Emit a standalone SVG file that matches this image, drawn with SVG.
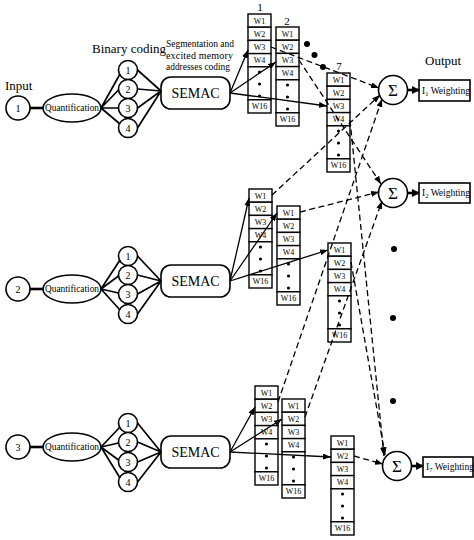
<svg xmlns="http://www.w3.org/2000/svg" width="474" height="540" viewBox="0 0 474 540">
<defs>
<style>
text{font-family:"Liberation Serif","Times New Roman",serif;fill:#000}
.node{fill:#fff;stroke:#000;stroke-width:1.6}
.cell{fill:#fff;stroke:#000;stroke-width:1.4}
.w{font-size:8px;text-anchor:middle}
.dot{fill:#000}
.ln{stroke:#000;stroke-width:1.7;fill:none}
.thin{stroke:#000;stroke-width:1.3;fill:none}
.dash{stroke:#000;stroke-width:1.3;stroke-dasharray:6 3.5;fill:none}
.thick{stroke:#000;stroke-width:2.6;fill:none}
.lbl{font-size:13px}
.num{font-size:10px;text-anchor:middle}
.q{font-size:9.5px;text-anchor:middle}
.sem{font-size:14px;text-anchor:middle}
.sig{font-size:17px;text-anchor:middle}
.wt{font-size:9.5px}
.sub{font-size:6.5px}
</style>
<marker id="ah" viewBox="0 0 8 6" refX="8" refY="3" markerWidth="8" markerHeight="6" markerUnits="userSpaceOnUse" orient="auto">
<path d="M0,0 L8,3 L0,6 z" fill="#000"/>
</marker>
<marker id="ahb" viewBox="0 0 8 8" refX="7" refY="4" markerWidth="8" markerHeight="8" markerUnits="userSpaceOnUse" orient="auto">
<path d="M0,0 L8,4 L0,8 z" fill="#000"/>
</marker>
</defs>
<rect width="474" height="540" fill="#fff"/>

<!-- labels -->
<text class="lbl" x="5" y="90">Input</text>
<text class="lbl" x="92" y="53">Binary coding</text>
<text font-size="10" x="166" y="47" textLength="68" lengthAdjust="spacingAndGlyphs">Segmentation and</text>
<text font-size="10" x="166" y="58.5" textLength="67" lengthAdjust="spacing">excited memory</text>
<text font-size="10" x="166" y="70" textLength="64" lengthAdjust="spacingAndGlyphs">addresses coding</text>
<text class="lbl" x="425" y="65">Output</text>
<text font-size="11" x="260" y="11" text-anchor="middle">1</text>
<text font-size="11" x="287" y="25" text-anchor="middle">2</text>
<text font-size="11" x="339" y="70" text-anchor="middle">7</text>

<!-- group 1 -->
<g id="in1"><circle class="node" cx="18" cy="108" r="12"/><text class="num" x="18" y="111.5">1</text></g>
<g id="q1"><ellipse class="node" cx="72" cy="108" rx="29" ry="14"/><text class="q" x="72" y="111" textLength="54" lengthAdjust="spacingAndGlyphs">Quantification</text></g>
<g id="b1_1"><circle class="node" cx="128" cy="70" r="9.5"/><text class="num" x="128" y="73.5">1</text></g>
<g id="b1_2"><circle class="node" cx="128" cy="89" r="9.5"/><text class="num" x="128" y="92.5">2</text></g>
<g id="b1_3"><circle class="node" cx="128" cy="108" r="9.5"/><text class="num" x="128" y="111.5">3</text></g>
<g id="b1_4"><circle class="node" cx="128" cy="128" r="9.5"/><text class="num" x="128" y="131.5">4</text></g>
<g id="semac1"><rect class="node" x="161" y="77" width="69" height="32" rx="10"/><text class="sem" x="195.5" y="98">SEMAC</text></g>

<!-- group 2 -->
<g id="in2"><circle class="node" cx="18" cy="289" r="12"/><text class="num" x="18" y="292.5">2</text></g>
<g id="q2"><ellipse class="node" cx="72" cy="289" rx="29" ry="14"/><text class="q" x="72" y="292" textLength="54" lengthAdjust="spacingAndGlyphs">Quantification</text></g>
<g id="b2_1"><circle class="node" cx="128" cy="256" r="9.5"/><text class="num" x="128" y="259.5">1</text></g>
<g id="b2_2"><circle class="node" cx="128" cy="275" r="9.5"/><text class="num" x="128" y="278.5">2</text></g>
<g id="b2_3"><circle class="node" cx="128" cy="294" r="9.5"/><text class="num" x="128" y="297.5">3</text></g>
<g id="b2_4"><circle class="node" cx="128" cy="314" r="9.5"/><text class="num" x="128" y="317.5">4</text></g>
<g id="semac2"><rect class="node" x="161" y="265" width="69" height="32" rx="10"/><text class="sem" x="195.5" y="286">SEMAC</text></g>

<!-- group 3 -->
<g id="in3"><circle class="node" cx="18" cy="447" r="12"/><text class="num" x="18" y="450.5">3</text></g>
<g id="q3"><ellipse class="node" cx="72" cy="447" rx="29" ry="14"/><text class="q" x="72" y="450" textLength="54" lengthAdjust="spacingAndGlyphs">Quantification</text></g>
<g id="b3_1"><circle class="node" cx="128" cy="423" r="9.5"/><text class="num" x="128" y="426.5">1</text></g>
<g id="b3_2"><circle class="node" cx="128" cy="442" r="9.5"/><text class="num" x="128" y="445.5">2</text></g>
<g id="b3_3"><circle class="node" cx="128" cy="462" r="9.5"/><text class="num" x="128" y="465.5">3</text></g>
<g id="b3_4"><circle class="node" cx="128" cy="482" r="9.5"/><text class="num" x="128" y="485.5">4</text></g>
<g id="semac3"><rect class="node" x="161" y="436" width="69" height="32" rx="10"/><text class="sem" x="195.5" y="457">SEMAC</text></g>

<!-- memory columns -->
<g id="g1c1" transform="translate(248,14)">
<rect class="cell" width="23" height="13.2"/><rect class="cell" y="13.2" width="23" height="13.2"/><rect class="cell" y="26.4" width="23" height="13.2"/><rect class="cell" y="39.6" width="23" height="13.2"/><rect class="cell" y="52.8" width="23" height="33"/><rect class="cell" y="85.8" width="23" height="13.2"/>
<text class="w" x="11.5" y="9.6">W1</text><text class="w" x="11.5" y="22.8">W2</text><text class="w" x="11.5" y="36">W3</text><text class="w" x="11.5" y="49.2">W4</text><text class="w" x="11.5" y="95.4">W16</text>
<circle class="dot" cx="11.5" cy="58" r="1.6"/><circle class="dot" cx="11.5" cy="70" r="1.6"/><circle class="dot" cx="11.5" cy="82" r="1.6"/>
</g>
<g id="g1c2" transform="translate(276,27)">
<rect class="cell" width="23" height="13.2"/><rect class="cell" y="13.2" width="23" height="13.2"/><rect class="cell" y="26.4" width="23" height="13.2"/><rect class="cell" y="39.6" width="23" height="13.2"/><rect class="cell" y="52.8" width="23" height="33"/><rect class="cell" y="85.8" width="23" height="13.2"/>
<text class="w" x="11.5" y="9.6">W1</text><text class="w" x="11.5" y="22.8">W2</text><text class="w" x="11.5" y="36">W3</text><text class="w" x="11.5" y="49.2">W4</text><text class="w" x="11.5" y="95.4">W16</text>
<circle class="dot" cx="11.5" cy="58" r="1.6"/><circle class="dot" cx="11.5" cy="70" r="1.6"/><circle class="dot" cx="11.5" cy="82" r="1.6"/>
</g>
<g id="g1c7" transform="translate(327,73)">
<rect class="cell" width="23" height="13.2"/><rect class="cell" y="13.2" width="23" height="13.2"/><rect class="cell" y="26.4" width="23" height="13.2"/><rect class="cell" y="39.6" width="23" height="13.2"/><rect class="cell" y="52.8" width="23" height="33"/><rect class="cell" y="85.8" width="23" height="13.2"/>
<text class="w" x="11.5" y="9.6">W1</text><text class="w" x="11.5" y="22.8">W2</text><text class="w" x="11.5" y="36">W3</text><text class="w" x="11.5" y="49.2">W4</text><text class="w" x="11.5" y="95.4">W16</text>
<circle class="dot" cx="11.5" cy="58" r="1.6"/><circle class="dot" cx="11.5" cy="70" r="1.6"/><circle class="dot" cx="11.5" cy="82" r="1.6"/>
</g>
<g id="g2c1" transform="translate(249,189)">
<rect class="cell" width="23" height="13.2"/><rect class="cell" y="13.2" width="23" height="13.2"/><rect class="cell" y="26.4" width="23" height="13.2"/><rect class="cell" y="39.6" width="23" height="13.2"/><rect class="cell" y="52.8" width="23" height="33"/><rect class="cell" y="85.8" width="23" height="13.2"/>
<text class="w" x="11.5" y="9.6">W1</text><text class="w" x="11.5" y="22.8">W2</text><text class="w" x="11.5" y="36">W3</text><text class="w" x="11.5" y="49.2">W4</text><text class="w" x="11.5" y="95.4">W16</text>
<circle class="dot" cx="11.5" cy="58" r="1.6"/><circle class="dot" cx="11.5" cy="70" r="1.6"/><circle class="dot" cx="11.5" cy="82" r="1.6"/>
</g>
<g id="g2c2" transform="translate(277,206)">
<rect class="cell" width="23" height="13.2"/><rect class="cell" y="13.2" width="23" height="13.2"/><rect class="cell" y="26.4" width="23" height="13.2"/><rect class="cell" y="39.6" width="23" height="13.2"/><rect class="cell" y="52.8" width="23" height="33"/><rect class="cell" y="85.8" width="23" height="13.2"/>
<text class="w" x="11.5" y="9.6">W1</text><text class="w" x="11.5" y="22.8">W2</text><text class="w" x="11.5" y="36">W3</text><text class="w" x="11.5" y="49.2">W4</text><text class="w" x="11.5" y="95.4">W16</text>
<circle class="dot" cx="11.5" cy="58" r="1.6"/><circle class="dot" cx="11.5" cy="70" r="1.6"/><circle class="dot" cx="11.5" cy="82" r="1.6"/>
</g>
<g id="g2c7" transform="translate(328,243)">
<rect class="cell" width="23" height="13.2"/><rect class="cell" y="13.2" width="23" height="13.2"/><rect class="cell" y="26.4" width="23" height="13.2"/><rect class="cell" y="39.6" width="23" height="13.2"/><rect class="cell" y="52.8" width="23" height="33"/><rect class="cell" y="85.8" width="23" height="13.2"/>
<text class="w" x="11.5" y="9.6">W1</text><text class="w" x="11.5" y="22.8">W2</text><text class="w" x="11.5" y="36">W3</text><text class="w" x="11.5" y="49.2">W4</text><text class="w" x="11.5" y="95.4">W16</text>
<circle class="dot" cx="11.5" cy="58" r="1.6"/><circle class="dot" cx="11.5" cy="70" r="1.6"/><circle class="dot" cx="11.5" cy="82" r="1.6"/>
</g>
<g id="g3c1" transform="translate(255,386)">
<rect class="cell" width="23" height="13.2"/><rect class="cell" y="13.2" width="23" height="13.2"/><rect class="cell" y="26.4" width="23" height="13.2"/><rect class="cell" y="39.6" width="23" height="13.2"/><rect class="cell" y="52.8" width="23" height="33"/><rect class="cell" y="85.8" width="23" height="13.2"/>
<text class="w" x="11.5" y="9.6">W1</text><text class="w" x="11.5" y="22.8">W2</text><text class="w" x="11.5" y="36">W3</text><text class="w" x="11.5" y="49.2">W4</text><text class="w" x="11.5" y="95.4">W16</text>
<circle class="dot" cx="11.5" cy="58" r="1.6"/><circle class="dot" cx="11.5" cy="70" r="1.6"/><circle class="dot" cx="11.5" cy="82" r="1.6"/>
</g>
<g id="g3c2" transform="translate(282,399)">
<rect class="cell" width="23" height="13.2"/><rect class="cell" y="13.2" width="23" height="13.2"/><rect class="cell" y="26.4" width="23" height="13.2"/><rect class="cell" y="39.6" width="23" height="13.2"/><rect class="cell" y="52.8" width="23" height="33"/><rect class="cell" y="85.8" width="23" height="13.2"/>
<text class="w" x="11.5" y="9.6">W1</text><text class="w" x="11.5" y="22.8">W2</text><text class="w" x="11.5" y="36">W3</text><text class="w" x="11.5" y="49.2">W4</text><text class="w" x="11.5" y="95.4">W16</text>
<circle class="dot" cx="11.5" cy="58" r="1.6"/><circle class="dot" cx="11.5" cy="70" r="1.6"/><circle class="dot" cx="11.5" cy="82" r="1.6"/>
</g>
<g id="g3c7" transform="translate(331,436)">
<rect class="cell" width="23" height="13.2"/><rect class="cell" y="13.2" width="23" height="13.2"/><rect class="cell" y="26.4" width="23" height="13.2"/><rect class="cell" y="39.6" width="23" height="13.2"/><rect class="cell" y="52.8" width="23" height="33"/><rect class="cell" y="85.8" width="23" height="13.2"/>
<text class="w" x="11.5" y="9.6">W1</text><text class="w" x="11.5" y="22.8">W2</text><text class="w" x="11.5" y="36">W3</text><text class="w" x="11.5" y="49.2">W4</text><text class="w" x="11.5" y="95.4">W16</text>
<circle class="dot" cx="11.5" cy="58" r="1.6"/><circle class="dot" cx="11.5" cy="70" r="1.6"/><circle class="dot" cx="11.5" cy="82" r="1.6"/>
</g>

<!-- summation nodes and outputs -->
<g id="sum1"><circle class="node" cx="393" cy="90" r="14.5"/><text class="sig" x="393" y="96">Σ</text></g>
<g id="sum2"><circle class="node" cx="393" cy="193" r="14.5"/><text class="sig" x="393" y="199">Σ</text></g>
<g id="sum7"><circle class="node" cx="397" cy="466" r="14.5"/><text class="sig" x="397" y="472">Σ</text></g>
<g id="out1"><rect class="node" x="419" y="80" width="51" height="21" stroke-width="1.3"/><text class="wt" x="422" y="93.5">I<tspan class="sub" dy="2">1</tspan><tspan dy="-2"> Weighting</tspan></text></g>
<g id="out2"><rect class="node" x="419" y="183" width="51" height="20" stroke-width="1.3"/><text class="wt" x="422" y="196">I<tspan class="sub" dy="2">2</tspan><tspan dy="-2"> Weighting</tspan></text></g>
<g id="out7"><rect class="node" x="423" y="457" width="50" height="20" stroke-width="1.3"/><text class="wt" x="426" y="470">I<tspan class="sub" dy="2">7</tspan><tspan dy="-2"> Weighting</tspan></text></g>

<!-- ellipsis dots -->
<g id="ellipsis">
<circle class="dot" cx="307" cy="44" r="3"/><circle class="dot" cx="314.5" cy="55" r="3"/><circle class="dot" cx="323" cy="67" r="3"/>
<circle class="dot" cx="394" cy="249" r="3"/><circle class="dot" cx="393" cy="318" r="3"/><circle class="dot" cx="393" cy="401" r="3"/>
</g>

<!-- connectors -->
<g id="connectors">
<line class="thick" x1="30" y1="108" x2="43" y2="108" stroke-width="2"/>
<line class="thick" x1="30" y1="289" x2="43" y2="289" stroke-width="2"/>
<line class="thick" x1="30" y1="447" x2="43" y2="447" stroke-width="2"/>
<path class="ln" d="M101,108 L120,74 M101,108 L118.5,90 M101,108 L118.5,108 M101,108 L120,124"/>
<path class="ln" d="M137.5,70 L161,91 M137.5,89 L161,91 M137.5,108 L161,91 M137.5,128 L161,91"/>
<path class="ln" d="M101,289 L120,260 M101,289 L118.5,276 M101,289 L118.5,293 M101,289 L120,310"/>
<path class="ln" d="M137.5,256 L161,281 M137.5,275 L161,281 M137.5,294 L161,281 M137.5,314 L161,281"/>
<path class="ln" d="M101,447 L120,427 M101,447 L118.5,443 M101,447 L118.5,460 M101,447 L120,478"/>
<path class="ln" d="M137.5,423 L161,452 M137.5,442 L161,452 M137.5,462 L161,452 M137.5,482 L161,452"/>
<line class="thin" x1="230" y1="93" x2="248" y2="50" marker-end="url(#ah)"/>
<line class="thin" x1="230" y1="93" x2="276" y2="62" marker-end="url(#ah)"/>
<line class="thin" x1="230" y1="93" x2="327" y2="106" marker-end="url(#ah)"/>
<line class="thin" x1="230" y1="281" x2="249" y2="198" marker-end="url(#ah)"/>
<line class="thin" x1="230" y1="281" x2="277" y2="213" marker-end="url(#ah)"/>
<line class="thin" x1="230" y1="281" x2="328" y2="250" marker-end="url(#ah)"/>
<line class="thin" x1="230" y1="452" x2="255" y2="407" marker-end="url(#ah)"/>
<line class="thin" x1="230" y1="452" x2="282" y2="419" marker-end="url(#ah)"/>
<line class="thin" x1="230" y1="452" x2="331" y2="457" marker-end="url(#ah)"/>
<line class="dash" x1="271" y1="47" x2="379" y2="88" marker-end="url(#ah)"/>
<line class="dash" x1="272" y1="195" x2="380" y2="95" marker-end="url(#ah)"/>
<line class="dash" x1="278" y1="402" x2="382" y2="99" marker-end="url(#ah)"/>
<line class="dash" x1="299" y1="60" x2="381" y2="184" marker-end="url(#ah)"/>
<line class="dash" x1="300" y1="212" x2="379" y2="192" marker-end="url(#ah)"/>
<line class="dash" x1="305" y1="417" x2="382" y2="201" marker-end="url(#ah)"/>
<line class="dash" x1="350" y1="120" x2="384" y2="456" marker-end="url(#ah)"/>
<line class="dash" x1="351" y1="262" x2="385" y2="455" marker-end="url(#ah)"/>
<line class="dash" x1="354" y1="456" x2="383" y2="464" marker-end="url(#ah)"/>
<line class="thick" x1="407.5" y1="90" x2="419" y2="90" marker-end="url(#ahb)"/>
<line class="thick" x1="407.5" y1="193" x2="419" y2="193" marker-end="url(#ahb)"/>
<line class="thick" x1="411.5" y1="466" x2="423" y2="466" marker-end="url(#ahb)"/>
</g>
</svg>
